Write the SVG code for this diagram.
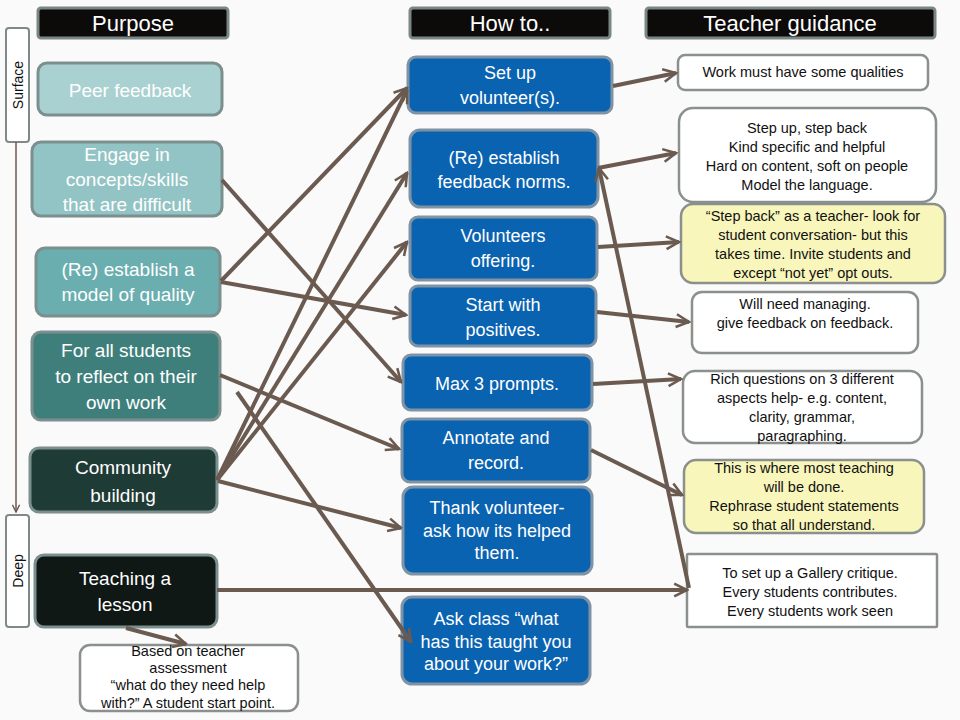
<svg xmlns="http://www.w3.org/2000/svg" width="960" height="720" viewBox="0 0 960 720">
<defs>
<marker id="ar" viewBox="0 0 10 10" refX="9" refY="5" markerWidth="4" markerHeight="4" markerUnits="strokeWidth" orient="auto"><path d="M1,1 L9,5 L1,9" fill="none" stroke="#6b5a50" stroke-width="1.6"/></marker>
<marker id="ar2" viewBox="0 0 10 10" refX="9" refY="5" markerWidth="6" markerHeight="6" orient="auto"><path d="M1,1 L9,5 L1,9" fill="none" stroke="#6b5a50" stroke-width="1.6"/></marker>
<style>
text{font-family:"Liberation Sans",Arial,sans-serif;text-anchor:middle}
.hd rect{fill:#0d0b0a;stroke:#7b8784;stroke-width:3}
.hd text{fill:#fff;font-size:22px}
.p rect{stroke:#7a8f8e;stroke-width:3}
.p text{fill:#fff;font-size:19px}
.h rect{fill:#0a63b1;stroke:#7f93a4;stroke-width:3}
.h text{fill:#fff;font-size:18px}
.g rect{fill:#fff;stroke:#8a908c;stroke-width:2.5}
.g text{fill:#111;font-size:14.5px}
.y rect{fill:#f8f6bb}
.c line{stroke:#6b5a50;stroke-width:4;marker-end:url(#ar)}
</style>
</defs>
<rect width="960" height="720" fill="#fafafa"/>
<g id="hdr-purpose" class="hd"><rect x="38" y="8" width="190" height="30" rx="3"/><text x="133" y="31">Purpose</text></g>
<g id="hdr-how" class="hd"><rect x="410" y="8" width="200" height="30" rx="3"/><text x="510" y="31">How to..</text></g>
<g id="hdr-teacher" class="hd"><rect x="646" y="8" width="289" height="30" rx="3"/><text x="790" y="31">Teacher guidance</text></g>

<g id="surface"><rect x="6" y="28" width="23" height="114" rx="3" fill="#fff" stroke="#7f8a88" stroke-width="2"/><text transform="translate(23,85) rotate(-90)" font-size="14" fill="#111">Surface</text></g>
<g id="deep"><rect x="6" y="515" width="23" height="112" rx="3" fill="#fff" stroke="#7f8a88" stroke-width="2"/><text transform="translate(23,571) rotate(-90)" font-size="14" fill="#111">Deep</text></g>

<g id="p1" class="p"><rect x="38" y="63" width="184" height="52" rx="9" fill="#a9d1d1"/><text x="130" y="97" font-size="21">Peer feedback</text></g>
<g id="p2" class="p"><rect x="32" y="142" width="190" height="74" rx="9" fill="#93c4c5"/><text x="127" y="161">Engage  in</text><text x="127" y="186">concepts/skills</text><text x="127" y="211">that are difficult</text></g>
<g id="p3" class="p"><rect x="36" y="248" width="184" height="68" rx="9" fill="#6aaeb0"/><text x="128" y="276">(Re) establish  a</text><text x="128" y="301">model  of quality</text></g>
<g id="p4" class="p"><rect x="32" y="332" width="188" height="88" rx="9" fill="#3e7f7c"/><text x="126" y="357">For all students</text><text x="126" y="383">to reflect on their</text><text x="126" y="409">own work</text></g>
<g id="p5" class="p"><rect x="30" y="448" width="187" height="64" rx="9" fill="#1f3b36"/><text x="123" y="474" font-size="22">Community</text><text x="123" y="502" font-size="22">building</text></g>
<g id="p6" class="p"><rect x="35" y="555" width="182" height="72" rx="9" fill="#0f1815"/><text x="125" y="585">Teaching  a</text><text x="125" y="611">lesson</text></g>
<g id="p7" class="g"><rect x="80" y="645" width="218" height="66" rx="10"/><text x="188" y="656" font-size="13.5">Based on teacher</text><text x="188" y="673" font-size="13.5">assessment</text><text x="188" y="690" font-size="13.5">“what do they need help</text><text x="188" y="708" font-size="13.5">with?”  A student start point.</text></g>

<g id="h1" class="h"><rect x="408" y="57" width="204" height="56" rx="8"/><text x="510" y="79">Set up</text><text x="510" y="104">volunteer(s).</text></g>
<g id="h2" class="h"><rect x="410" y="130" width="188" height="77" rx="10"/><text x="504" y="164">(Re) establish</text><text x="504" y="188">feedback norms.</text></g>
<g id="h3" class="h"><rect x="410" y="217" width="187" height="63" rx="8"/><text x="503" y="242">Volunteers</text><text x="503" y="267">offering.</text></g>
<g id="h4" class="h"><rect x="410" y="286" width="186" height="60" rx="8"/><text x="503" y="311">Start with</text><text x="503" y="336">positives.</text></g>
<g id="h5" class="h"><rect x="403" y="355" width="189" height="55" rx="8"/><text x="497" y="390">Max  3 prompts.</text></g>
<g id="h6" class="h"><rect x="402" y="419" width="188" height="63" rx="8"/><text x="496" y="444">Annotate  and</text><text x="496" y="469">record.</text></g>
<g id="h7" class="h"><rect x="403" y="487" width="189" height="87" rx="10"/><text x="497" y="514">Thank volunteer-</text><text x="497" y="537">ask how its helped</text><text x="497" y="559">them.</text></g>
<g id="h8" class="h"><rect x="402" y="597" width="188" height="87" rx="10"/><text x="496" y="625">Ask class “what</text><text x="496" y="648">has this taught you</text><text x="496" y="670">about your work?”</text></g>

<g id="t1" class="g"><rect x="678" y="55" width="250" height="35" rx="7"/><text x="803" y="77">Work must have  some qualities</text></g>
<g id="t2" class="g"><rect x="679" y="108" width="257" height="94" rx="14"/><text x="807" y="133">Step up, step back</text><text x="807" y="152">Kind specific and helpful</text><text x="807" y="171">Hard on content, soft on people</text><text x="807" y="190">Model the language.</text></g>
<g id="t3" class="g y"><rect x="681" y="204" width="264" height="79" rx="12"/><text x="813" y="221">“Step back” as a teacher-  look for</text><text x="813" y="240">student  conversation-  but  this</text><text x="813" y="259">takes time. Invite  students  and</text><text x="813" y="278">except “not  yet”  opt outs.</text></g>
<g id="t4" class="g"><rect x="692" y="292" width="226" height="61" rx="10"/><text x="805" y="309">Will need managing.</text><text x="805" y="328">give feedback on feedback.</text></g>
<g id="t5" class="g"><rect x="683" y="371" width="239" height="72" rx="12"/><text x="802" y="384">Rich questions  on 3 different</text><text x="802" y="403">aspects help-  e.g. content,</text><text x="802" y="422">clarity,  grammar,</text><text x="802" y="441">paragraphing.</text></g>
<g id="t6" class="g y"><rect x="684" y="460" width="240" height="73" rx="12"/><text x="804" y="473">This  is where most  teaching</text><text x="804" y="492">will be done.</text><text x="804" y="511">Rephrase student  statements</text><text x="804" y="530">so that  all  understand.</text></g>
<g id="t7" class="g"><rect x="687" y="554" width="250" height="73" rx="1"/><text x="810" y="578">To set up a Gallery  critique.</text><text x="810" y="597">Every  students  contributes.</text><text x="810" y="616">Every  students  work seen</text></g>

<g id="connectors" class="c">
<line x1="16" y1="142" x2="16" y2="512" style="stroke-width:1.5;marker-end:url(#ar2)"/>
<line x1="222" y1="180" x2="401" y2="382"/>
<line x1="221" y1="281" x2="407" y2="88"/>
<line x1="221" y1="282" x2="406" y2="315"/>
<line x1="220" y1="375" x2="399" y2="449"/>
<line x1="237" y1="392" x2="411" y2="642"/>
<line x1="217" y1="480" x2="407" y2="90"/>
<line x1="217" y1="480" x2="407" y2="173"/>
<line x1="217" y1="480" x2="407" y2="242"/>
<line x1="218" y1="481" x2="401" y2="528"/>
<line x1="217" y1="590" x2="687" y2="590"/>
<line x1="126" y1="628" x2="186" y2="644"/>
<line x1="613" y1="86" x2="676" y2="73"/>
<line x1="598" y1="168" x2="676" y2="153"/>
<line x1="598" y1="247" x2="679" y2="242"/>
<line x1="597" y1="312" x2="689" y2="322"/>
<line x1="593" y1="384" x2="681" y2="379"/>
<line x1="591" y1="450" x2="682" y2="495"/>
<line x1="689" y1="588" x2="599" y2="168"/>
</g>
</svg>
